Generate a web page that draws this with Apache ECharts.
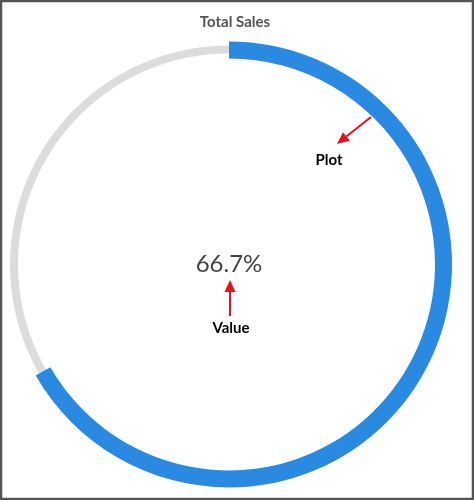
<!DOCTYPE html>
<html>
<head>
<meta charset="utf-8">
<script src="https://cdn.jsdelivr.net/npm/echarts@6/dist/echarts.min.js"></script>
<style>
  html, body { margin: 0; padding: 0; background: #fff; }
  #main { width: 474px; height: 500px; }
</style>
</head>
<body>
<div id="main"></div>
<script>
// 图表数据
var chartTitle = 'Total Sales'
var salesValue = [66.7]
var gaugeMin = 0
var gaugeMax = 100
var notes = ['Plot', 'Value']

var myChart = echarts.init(document.getElementById('main'));

var cx = 229, cy = 264.5;
var red = '#e3121b';

// 箭头：线 + 三角形
function arrow(x1, y1, x2, y2) {
  var ang = Math.atan2(y2 - y1, x2 - x1);
  var len = 12, half = 5.5;
  var bx = x2 - len * Math.cos(ang), by = y2 - len * Math.sin(ang);
  var px = -Math.sin(ang) * half, py = Math.cos(ang) * half;
  return [
    { type: 'line', shape: { x1: x1, y1: y1, x2: bx, y2: by },
      style: { stroke: red, lineWidth: 2 } },
    { type: 'polygon', shape: { points: [[x2, y2], [bx + px, by + py], [bx - px, by - py]] },
      style: { fill: red } }
  ];
}

var option = {
  backgroundColor: '#fff',
  title: {
    text: chartTitle,
    left: cx + 1,
    top: 10,
    textAlign: 'center',
    textStyle: { fontFamily: 'Lato', fontWeight: 'bold', fontSize: 15, color: '#555' }
  },
  series: [
    {
      // 灰色轨道
      type: 'gauge',
      center: [cx, cy],
      radius: 219,
      startAngle: 90,
      endAngle: -270,
      min: gaugeMin,
      max: gaugeMax,
      axisLine: { lineStyle: { width: 8, color: [[1, '#dcdcdc']] } },
      pointer: { show: false },
      axisTick: { show: false },
      splitLine: { show: false },
      axisLabel: { show: false },
      title: { show: false },
      detail: { show: false },
      data: [{ value: 0 }],
      silent: true
    },
    {
      type: 'gauge',
      center: [cx, cy],
      radius: 223,
      startAngle: 90,
      endAngle: -270,
      min: gaugeMin,
      max: gaugeMax,
      progress: { show: true, width: 17, roundCap: false, itemStyle: { color: '#2a89e0' } },
      axisLine: { show: false, lineStyle: { width: 17 } },
      pointer: { show: false },
      axisTick: { show: false },
      splitLine: { show: false },
      axisLabel: { show: false },
      title: { show: false },
      detail: {
        offsetCenter: [0, 0],
        fontFamily: 'Lato',
        fontWeight: 'normal',
        fontSize: 24,
        color: '#444',
        formatter: '{value}%'
      },
      data: salesValue.map(function (v) { return { value: v }; })
    }
  ],
  graphic: [
    { type: 'rect', shape: { x: 1, y: 1, width: 472, height: 498 },
      style: { fill: null, stroke: '#555', lineWidth: 2.5 }, silent: true },
    { type: 'text', x: 329, y: 160,
      style: { text: notes[0], fontFamily: 'Lato', fontWeight: 'bold', fontSize: 15,
               fill: '#000', align: 'center', verticalAlign: 'middle' } },
    { type: 'text', x: 231, y: 328,
      style: { text: notes[1], fontFamily: 'Lato', fontWeight: 'bold', fontSize: 15,
               fill: '#000', align: 'center', verticalAlign: 'middle' } }
  ].concat(arrow(371, 117, 337, 144)).concat(arrow(230, 316, 230, 280))
};
myChart.setOption(option);
</script>
</body>
</html>
